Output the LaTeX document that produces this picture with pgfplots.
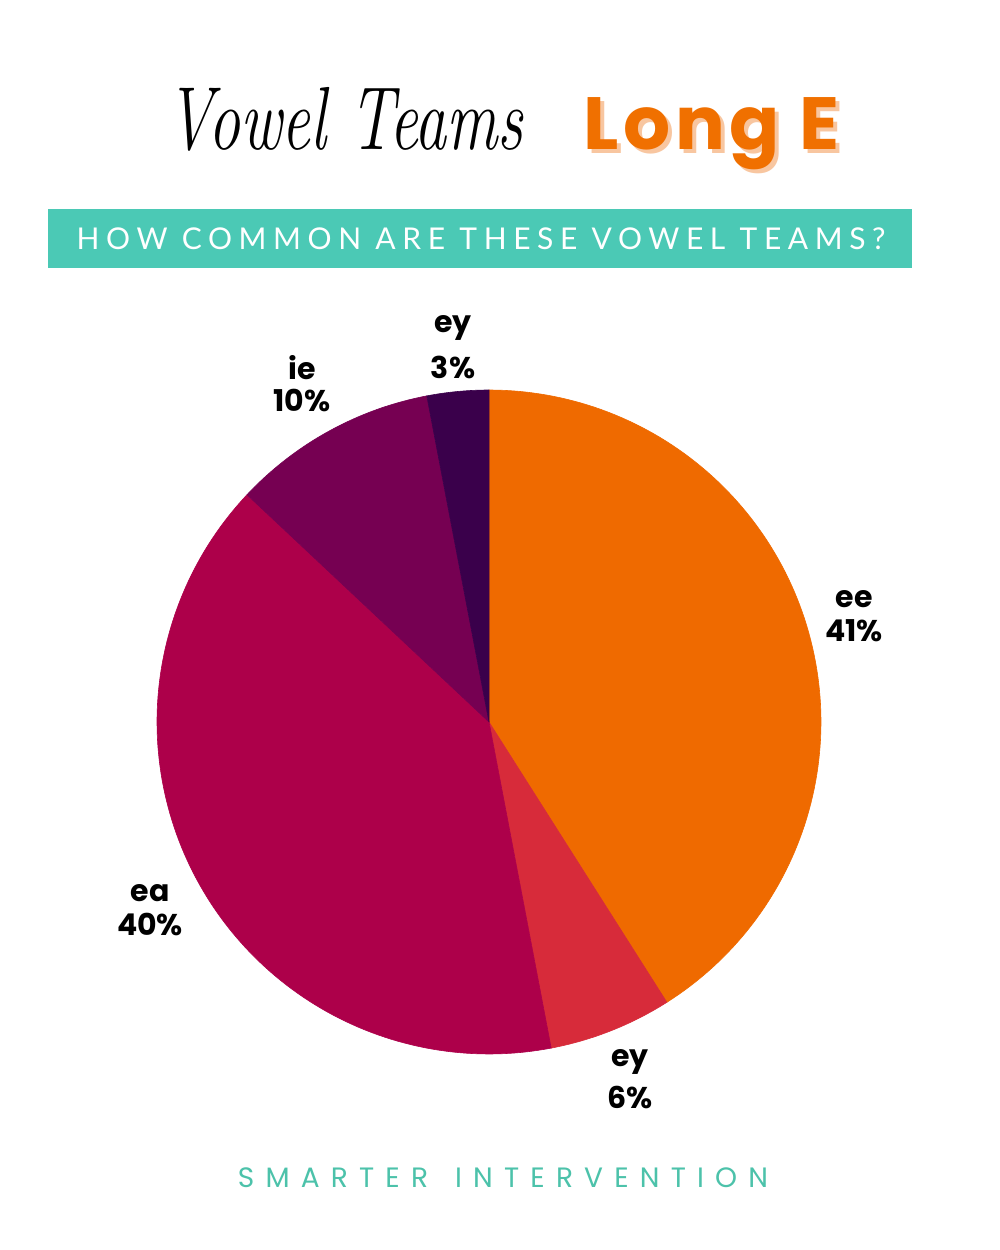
\documentclass[border=0pt]{standalone}
\usepackage{pgfplots}
\pgfplotsset{compat=1.18}
\usepackage{fontspec}
\newfontfamily\popp{Poppins}
\newfontfamily\titlefont[LetterSpace=6]{Poppins}
\newfontfamily\bannerfont[LetterSpace=22]{Lato}
\newfontfamily\footfont[LetterSpace=40]{Poppins}
\definecolor{cEE}{HTML}{EF6A00}
\definecolor{cEY}{HTML}{D72B3A}
\definecolor{cEA}{HTML}{AD004A}
\definecolor{cIE}{HTML}{760052}
\definecolor{cEYb}{HTML}{3A004B}
\definecolor{teal}{HTML}{4BC9B5}
\definecolor{tealtxt}{HTML}{4CC2AA}
\definecolor{peach}{HTML}{F8C6A0}
\definecolor{titleor}{HTML}{F07000}
\begin{document}
\begin{tikzpicture}
\begin{axis}[
  scale only axis, width=500pt, height=625pt,
  xmin=0, xmax=1000, ymin=0, ymax=1250,
  hide axis, clip=false,
]
% background canvas
\fill[white] (axis cs:0,0) rectangle (axis cs:1000,1250);
% titles
\node[anchor=base, font=\itshape\fontsize{32}{38}\selectfont] at (axis cs:345,1100) {\scalebox{1}[1.4]{Vowel Teams}};
\node[anchor=base, text=peach, font=\titlefont\bfseries\fontsize{37}{44}\selectfont] at (axis cs:716,1096) {Long E};
\node[anchor=base, text=titleor, font=\titlefont\bfseries\fontsize{37}{44}\selectfont] at (axis cs:712,1100) {Long E};
% banner
\fill[teal] (axis cs:48,982) rectangle (axis cs:912,1041);
\node[text=white, font=\bannerfont\fontsize{15}{18}\selectfont] at (axis cs:481,1011) {HOW COMMON ARE THESE VOWEL TEAMS?};
% pie slices (percentages: ee 41, ey 6, ea 40, ie 10, ey 3), clockwise from top
\addplot[draw=cEE, line width=0.3pt, fill=cEE, domain={90-3.6*41}:{90}, samples=120, variable=\t]
  ({489+332*cos(t)},{528+332*sin(t)}) -- (axis cs:489,528) -- cycle;
\addplot[draw=cEY, line width=0.3pt, fill=cEY, domain={90-3.6*(41+6)}:{90-3.6*41}, samples=30, variable=\t]
  ({489+332*cos(t)},{528+332*sin(t)}) -- (axis cs:489,528) -- cycle;
\addplot[draw=cEA, line width=0.3pt, fill=cEA, domain={90-3.6*(41+6+40)}:{90-3.6*(41+6)}, samples=120, variable=\t]
  ({489+332*cos(t)},{528+332*sin(t)}) -- (axis cs:489,528) -- cycle;
\addplot[draw=cIE, line width=0.3pt, fill=cIE, domain={90-3.6*(41+6+40+10)}:{90-3.6*(41+6+40)}, samples=40, variable=\t]
  ({489+332*cos(t)},{528+332*sin(t)}) -- (axis cs:489,528) -- cycle;
\addplot[draw=cEYb, line width=0.3pt, fill=cEYb, domain={90-3.6*(41+6+40+10+3)}:{90-3.6*(41+6+40+10)}, samples=20, variable=\t]
  ({489+332*cos(t)},{528+332*sin(t)}) -- (axis cs:489,528) -- cycle;
% labels
\tikzset{lab/.style={anchor=base, font=\popp\bfseries\fontsize{15}{18}\selectfont}}
\node[lab] at (axis cs:854,642) {ee};
\node[lab] at (axis cs:854,608) {41\%};
\node[lab] at (axis cs:630,184) {ey};
\node[lab] at (axis cs:630,141) {6\%};
\node[lab] at (axis cs:150,348) {ea};
\node[lab] at (axis cs:150,314) {40\%};
\node[lab] at (axis cs:302,870) {ie};
\node[lab] at (axis cs:302,838) {10\%};
\node[lab] at (axis cs:453,917) {ey};
\node[lab] at (axis cs:453,871) {3\%};
% footer
\node[text=tealtxt, font=\footfont\fontsize{14}{17}\selectfont] at (axis cs:503,72) {SMARTER\hspace{0.3em} INTERVENTION};
\end{axis}
\end{tikzpicture}
\end{document}
